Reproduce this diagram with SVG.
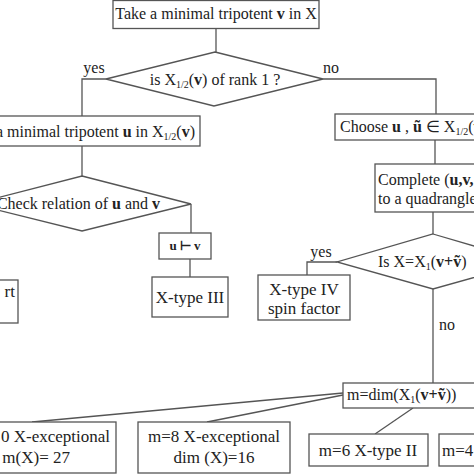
<svg xmlns="http://www.w3.org/2000/svg" width="474" height="474" viewBox="0 0 474 474">
<style>
.box{fill:#fff;stroke:#555;stroke-width:1.3}
.con{fill:none;stroke:#555;stroke-width:1.3}
text{font-family:"Liberation Serif","Times New Roman",serif;fill:#222;font-size:16px}
.b{font-weight:bold}
.l{font-size:17px}
.s{font-size:10px}
</style>
<rect width="474" height="474" fill="#fff"/>
<g id="connectors">
<line class="con" x1="216" y1="28" x2="216" y2="52"/>
<polyline class="con" points="106,79 82,79 82,116"/>
<polyline class="con" points="323,79 436,79 436,114"/>
<line class="con" x1="82" y1="146" x2="82" y2="176"/>
<polyline class="con" points="191,204 191,233"/>
<line class="con" x1="190" y1="259" x2="190" y2="277"/>
<line class="con" x1="435" y1="140" x2="435" y2="164"/>
<line class="con" x1="433" y1="212" x2="433" y2="234"/>
<polyline class="con" points="337,262 307,262 307,275"/>
<line class="con" x1="433" y1="289" x2="433" y2="383"/>
<line class="con" x1="343" y1="393" x2="32" y2="422"/>
<line class="con" x1="343" y1="395" x2="207" y2="422"/>
<line class="con" x1="413" y1="408" x2="375" y2="434"/>
</g>
<g id="start">
<rect class="box" x="113" y="0.5" width="206" height="28"/>
<text x="216" y="19" text-anchor="middle">Take a minimal tripotent <tspan class="b">v</tspan> in X</text>
</g>
<g id="d1">
<polygon class="box" points="215,52 323,79 214,106 106,79"/>
<text x="215" y="85" text-anchor="middle">is X<tspan class="s" dy="3">1/2</tspan><tspan dy="-3">(</tspan><tspan class="b">v</tspan>) of rank 1 ?</text>
<text x="94" y="73" text-anchor="middle">yes</text>
<text x="331" y="73" text-anchor="middle">no</text>
</g>
<g id="chooseu">
<rect class="box" x="-10" y="116" width="210" height="30"/>
<text x="195" y="137" text-anchor="end">a minimal tripotent <tspan class="b">u</tspan> in X<tspan class="s" dy="3">1/2</tspan><tspan dy="-3">(</tspan><tspan class="b">v</tspan>)</text>
</g>
<g id="d2">
<polygon class="box" points="82,176 191,204 82,231 -27,204"/>
<text x="160" y="209" text-anchor="end">Check relation of <tspan class="b">u</tspan> and <tspan class="b">v</tspan></text>
</g>
<g id="governs">
<rect class="box" x="159" y="233" width="52" height="26"/>
<text x="185" y="250" text-anchor="middle" class="b" style="font-size:13px">u ⊢ v</text>
</g>
<g id="type3">
<rect class="box" x="152" y="277" width="76" height="40"/>
<text x="190" y="303" text-anchor="middle" class="l">X-type III</text>
</g>
<g id="leftbox">
<rect class="box" x="-10" y="280" width="28" height="43"/>
<text x="15" y="297" text-anchor="end" class="l">rt</text>
</g>
<g id="choose2">
<rect class="box" x="335" y="114" width="150" height="26"/>
<text x="340" y="132">Choose <tspan class="b">u</tspan> , <tspan class="b">ũ</tspan> ∈ X<tspan class="s" dy="3">1/2</tspan><tspan dy="-3">(</tspan><tspan class="b">v</tspan>)</text>
</g>
<g id="complete">
<rect class="box" x="375" y="164" width="110" height="48"/>
<text x="378" y="185">Complete (<tspan class="b">u,v,</tspan></text>
<text x="378" y="204">to a quadrangle</text>
</g>
<g id="d3">
<polygon class="box" points="433,234 529,262 433,289 337,262"/>
<text x="378" y="267">Is X=X<tspan class="s" dy="3">1</tspan><tspan dy="-3">(</tspan><tspan class="b">v+ṽ</tspan>)</text>
<text x="321" y="257" text-anchor="middle">yes</text>
<text x="447" y="330" text-anchor="middle">no</text>
</g>
<g id="type4">
<rect class="box" x="258" y="275" width="92" height="45"/>
<text x="304" y="295" text-anchor="middle" class="l">X-type IV</text>
<text x="304" y="314" text-anchor="middle" class="l">spin factor</text>
</g>
<g id="mdim">
<rect class="box" x="343" y="383" width="140" height="25"/>
<text x="347" y="400">m=dim(X<tspan class="s" dy="3">1</tspan><tspan dy="-3">(</tspan><tspan class="b">v+ṽ</tspan>))</text>
</g>
<g id="m10">
<rect class="box" x="-10" y="422" width="126" height="51"/>
<text x="110" y="442" text-anchor="end" class="l">0 X-exceptional</text>
<text x="70" y="463" text-anchor="end" class="l">m(X)= 27</text>
</g>
<g id="m8">
<rect class="box" x="138" y="422" width="152" height="51"/>
<text x="214" y="442" text-anchor="middle" class="l">m=8 X-exceptional</text>
<text x="214" y="463" text-anchor="middle" class="l">dim (X)=16</text>
</g>
<g id="m6">
<rect class="box" x="309" y="434" width="119" height="32"/>
<text x="368" y="456" text-anchor="middle" class="l">m=6 X-type II</text>
</g>
<g id="m4">
<rect class="box" x="439" y="434" width="60" height="32"/>
<text x="442" y="456" class="l">m=4</text>
</g>
</svg>
